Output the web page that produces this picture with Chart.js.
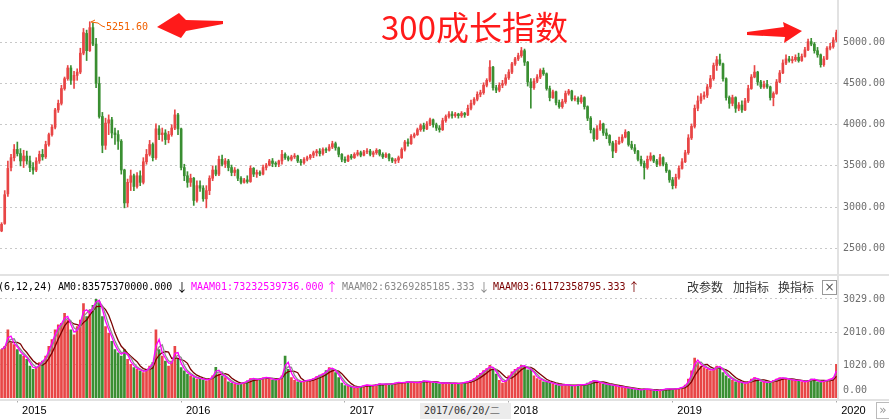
<!DOCTYPE html>
<html>
<head>
<meta charset="utf-8">
<script src="https://cdn.jsdelivr.net/npm/chart.js@4/dist/chart.umd.min.js"></script>
<style>
  body { margin: 0; background: #fff; }
  #page { position: relative; width: 889px; height: 420px; overflow: hidden; background: #fff; }
  .box { position: absolute; }
  .txt { position: absolute; white-space: nowrap; }
  .mono { font: 10px "DejaVu Sans Mono", monospace; line-height: 12px; }
  .arr { font: 12px "Noto Sans CJK SC", sans-serif; line-height: 12px; }
  .cjk { font: 12px "Noto Sans CJK SC", sans-serif; line-height: 14px; color: #333; }
</style>
</head>
<body>
<div id="page">
  <div class="box" style="left:0;top:0;width:889px;height:276px"><canvas id="priceChart"></canvas></div>
  <div class="box" style="left:0;top:276px;width:889px;height:144px"><canvas id="volChart"></canvas></div>

  <!-- frame lines -->
  <div class="box" style="left:0;top:274px;width:889px;height:2px;background:#e2e2e2"></div>
  <div class="box" style="left:0;top:399px;width:889px;height:2px;background:#e2e2e2"></div>
  <div class="box" style="left:837px;top:0;width:2px;height:401px;background:#e2e2e2"></div>

  <!-- title + annotations -->
  <div class="txt" style="left:381px;top:10px;font:33px 'Noto Sans CJK SC';line-height:33px;color:#ff1a1a">300成长指数</div>
  <div class="txt mono" style="left:106px;top:21px;color:#f06000">5251.60</div>
  <svg class="box" style="left:0;top:0" width="889" height="420">
    <polyline points="91,22 98,23 102,26 105,27" fill="none" stroke="#f06000" stroke-width="1"/>
    <polyline points="91,22 95,20" fill="none" stroke="#f06000" stroke-width="1"/>
    <polygon points="157,27 179,13 186,20 223,21 223,24 186,31 181,38" fill="#ff1a1a"/>
    <polygon points="747,32 784,27 783,22 802,31 784,43 785,37 747,35" fill="#ff1a1a"/>
  </svg>

  <!-- indicator legend -->
  <div class="txt mono" style="left:-2px;top:281px;color:#000">(6,12,24)</div>
  <div class="txt mono" style="left:58px;top:281px;color:#000">AM0:83575370000.000</div>
  <div class="txt arr" style="left:176px;top:281px;color:#000">↓</div>
  <div class="txt mono" style="left:191px;top:281px;color:#ff00ff">MAAM01:73232539736.000</div>
  <div class="txt arr" style="left:326px;top:281px;color:#ff00ff">↑</div>
  <div class="txt mono" style="left:342px;top:281px;color:#888">MAAM02:63269285185.333</div>
  <div class="txt arr" style="left:478px;top:281px;color:#888">↓</div>
  <div class="txt mono" style="left:493px;top:281px;color:#7a0000">MAAM03:61172358795.333</div>
  <div class="txt arr" style="left:628px;top:281px;color:#7a0000">↑</div>
  <div class="txt cjk" style="left:687px;top:280px">改参数</div>
  <div class="txt cjk" style="left:733px;top:280px">加指标</div>
  <div class="txt cjk" style="left:778px;top:280px">换指标</div>
  <div class="txt" style="left:822px;top:280px;width:13px;height:13px;border:1px solid #999;font:12px 'DejaVu Sans';line-height:13px;text-align:center;color:#555">×</div>

  <!-- bottom widgets -->
  <div class="txt mono" style="left:420px;top:403px;width:87px;height:16px;line-height:16px;padding-left:4px;background:#ececec;color:#333">2017/06/20/二</div>
  <div class="txt" style="left:876px;top:402px;width:12px;height:15px;border:1px solid #bbb;font:12px 'DejaVu Sans';line-height:14px;text-align:center;color:#999">»</div>
</div>

<script>
// weekly candles, Dec 2014 .. Jan 2020
var opens = [2710,2800,3160,3480,3600,3700,3650,3560,3620,3560,
3480,3450,3560,3640,3610,3760,3880,3970,4180,4260,
4440,4560,4690,4540,4600,4640,4870,5110,4900,5180,
4980,4500,4100,3750,4020,4060,3900,3880,3800,3450,
3050,3300,3380,3250,3380,3300,3550,3640,3760,3600,
3950,3880,3900,3820,3880,3960,4120,3950,3480,3380,
3300,3350,3080,3260,3230,3100,3200,3350,3450,3400,
3580,3520,3560,3480,3420,3450,3350,3300,3330,3310,
3470,3400,3420,3400,3480,3510,3560,3530,3520,3560,
3640,3600,3580,3610,3620,3560,3540,3580,3600,3630,
3660,3680,3650,3700,3690,3730,3770,3720,3640,3580,
3560,3620,3600,3640,3660,3630,3670,3680,3640,3660,
3690,3640,3610,3640,3590,3560,3570,3600,3700,3790,
3770,3860,3880,3940,3990,3950,4010,4060,4000,3960,
3940,4050,4100,4130,4110,4130,4110,4140,4120,4200,
4260,4310,4370,4390,4480,4540,4700,4450,4420,4480,
4500,4570,4640,4740,4800,4840,4900,4760,4520,4450,
4530,4580,4660,4620,4440,4330,4400,4270,4220,4280,
4380,4410,4310,4320,4280,4330,4220,4080,3940,3830,
3950,4010,3900,3870,3780,3680,3770,3800,3850,3910,
3760,3720,3680,3580,3530,3480,3580,3620,3560,3520,
3600,3520,3440,3330,3260,3360,3470,3550,3660,3840,
3980,4200,4290,4340,4360,4460,4560,4720,4790,4740,
4560,4330,4260,4330,4200,4240,4180,4290,4440,4580,
4640,4520,4460,4490,4460,4330,4380,4520,4630,4750,
4800,4780,4790,4820,4780,4830,4910,5010,4980,4900,
4850,4730,4800,4930,4950,5030];

var closes = [2790,3150,3470,3600,3700,3650,3560,3620,3560,3480,
3450,3560,3640,3610,3760,3880,3970,4180,4260,4440,
4560,4690,4540,4600,4640,4870,5120,4900,5180,4980,
4500,4100,3750,4020,4060,3900,3880,3800,3450,3050,
3300,3380,3250,3380,3300,3550,3640,3760,3600,3950,
3880,3900,3820,3880,3960,4120,3950,3480,3380,3300,
3350,3080,3260,3230,3100,3200,3350,3450,3400,3580,
3520,3560,3480,3420,3450,3350,3300,3330,3310,3470,
3400,3420,3400,3480,3510,3560,3530,3520,3560,3640,
3600,3580,3610,3620,3560,3540,3580,3600,3630,3660,
3680,3650,3700,3690,3730,3770,3720,3640,3580,3560,
3620,3600,3640,3660,3630,3670,3680,3640,3660,3690,
3640,3610,3640,3590,3560,3570,3600,3700,3790,3770,
3860,3880,3940,3990,3950,4010,4060,4000,3960,3940,
4050,4100,4130,4110,4130,4110,4140,4120,4200,4260,
4310,4370,4390,4480,4540,4700,4450,4420,4480,4500,
4570,4640,4740,4800,4840,4900,4760,4520,4450,4530,
4580,4660,4620,4440,4330,4400,4270,4220,4280,4380,
4410,4310,4320,4280,4330,4220,4080,3940,3830,3950,
4010,3900,3870,3780,3680,3770,3800,3850,3910,3760,
3720,3680,3580,3530,3480,3580,3620,3560,3520,3600,
3520,3440,3330,3260,3360,3470,3550,3660,3840,3980,
4200,4290,4340,4360,4460,4560,4720,4790,4740,4560,
4330,4260,4330,4200,4240,4180,4290,4440,4580,4640,
4520,4460,4490,4460,4330,4380,4520,4630,4750,4800,
4780,4790,4820,4780,4830,4910,5010,4980,4900,4850,
4730,4800,4930,4950,5030,5120];

var highs = [2810,3200,3560,3640,3760,3790,3710,3690,3680,3620,
3540,3600,3680,3700,3800,3900,4000,4200,4300,4480,
4580,4720,4720,4650,4680,4930,5170,5150,5252,5240,
5050,4580,4150,4080,4120,4090,3960,3930,3820,3460,
3340,3450,3400,3420,3440,3600,3700,3810,3780,4010,
3990,3960,3940,3920,4000,4180,4140,3960,3520,3430,
3400,3360,3320,3320,3260,3260,3380,3500,3500,3620,
3630,3590,3580,3510,3480,3460,3370,3350,3380,3500,
3480,3450,3440,3510,3530,3580,3590,3550,3570,3690,
3660,3620,3630,3650,3630,3580,3600,3620,3640,3680,
3700,3710,3720,3720,3760,3800,3790,3730,3650,3610,
3630,3640,3660,3690,3680,3690,3710,3700,3680,3710,
3700,3660,3660,3650,3600,3590,3620,3720,3810,3830,
3880,3900,3960,4010,4020,4040,4080,4070,4020,3990,
4080,4120,4160,4160,4150,4140,4160,4150,4240,4300,
4330,4400,4420,4510,4560,4780,4710,4480,4510,4540,
4610,4670,4760,4820,4870,4940,4920,4770,4560,4560,
4610,4680,4690,4630,4470,4420,4410,4300,4310,4410,
4430,4420,4350,4340,4360,4340,4230,4100,3960,3990,
4050,4020,3950,3880,3800,3810,3850,3880,3940,3920,
3800,3760,3690,3620,3560,3620,3660,3630,3580,3640,
3610,3540,3450,3360,3400,3500,3590,3690,3880,4010,
4240,4350,4380,4400,4490,4600,4750,4830,4860,4750,
4570,4350,4360,4340,4270,4290,4320,4480,4610,4720,
4650,4540,4530,4540,4470,4400,4550,4660,4790,4850,
4830,4830,4850,4870,4860,4940,5040,5050,5000,4940,
4860,4830,4950,4990,5060,5150];

var lows = [2700,2790,3130,3440,3560,3620,3500,3480,3520,3430,
3400,3430,3530,3570,3590,3740,3860,3950,4150,4240,
4420,4540,4490,4440,4540,4620,4850,4780,4890,4960,
4450,4080,3660,3700,3880,3840,3760,3700,3400,2990,
3000,3200,3200,3230,3260,3280,3520,3620,3560,3580,
3820,3800,3760,3780,3860,3940,3880,3450,3320,3240,
3250,3020,3060,3190,3070,2990,3150,3320,3380,3380,
3500,3480,3440,3380,3380,3320,3280,3290,3290,3300,
3370,3360,3380,3390,3450,3500,3490,3490,3490,3520,
3580,3560,3560,3590,3540,3510,3520,3560,3580,3600,
3620,3620,3630,3660,3680,3710,3690,3610,3550,3540,
3550,3580,3590,3620,3610,3620,3650,3620,3610,3640,
3620,3590,3600,3560,3540,3530,3540,3590,3680,3740,
3760,3840,3870,3920,3920,3940,3990,3970,3930,3910,
3930,4030,4080,4080,4090,4080,4090,4090,4110,4180,
4240,4290,4340,4370,4460,4520,4420,4390,4400,4450,
4480,4550,4620,4720,4780,4820,4720,4470,4200,4430,
4510,4560,4600,4420,4290,4320,4240,4200,4200,4260,
4360,4290,4290,4250,4260,4190,4050,3900,3800,3820,
3930,3870,3830,3750,3600,3660,3760,3780,3840,3740,
3700,3650,3560,3500,3340,3460,3560,3540,3490,3500,
3500,3420,3300,3220,3230,3340,3460,3540,3640,3820,
3960,4170,4260,4310,4330,4440,4540,4660,4720,4530,
4300,4200,4230,4150,4170,4150,4170,4270,4430,4570,
4480,4440,4440,4440,4300,4230,4370,4510,4620,4730,
4760,4750,4770,4760,4770,4820,4900,4960,4870,4820,
4700,4710,4790,4910,4930,5010];

// turnover (right axis units of the lower pane)
var volumes = [1500,1600,2100,1700,1650,1500,1350,1300,1200,1000,
900,950,1100,1150,1300,1600,1800,2100,2250,2300,
2600,2400,2100,1950,2200,2400,2900,2500,2700,2850,
3029,2950,2500,2200,2000,1750,1500,1400,1300,1500,
1200,1050,950,900,850,800,900,1000,1100,2100,
1500,1300,1150,1000,1150,1600,1200,950,850,750,
700,650,600,620,580,550,620,700,960,760,
700,650,520,480,450,430,470,500,550,620,
600,560,600,640,650,600,580,560,620,700,
1300,900,650,560,520,500,540,560,580,620,
680,720,760,860,950,900,800,650,480,400,
380,350,330,350,380,400,420,380,400,430,
460,420,450,430,460,480,500,470,500,520,
480,500,470,520,550,500,520,480,500,460,
470,480,450,470,460,450,480,500,520,560,
620,700,780,860,920,1020,880,750,560,480,
560,700,820,900,950,1020,980,880,900,700,
620,580,520,500,480,450,420,400,420,430,
400,380,400,420,430,410,480,520,560,500,
480,450,430,420,400,380,360,350,330,320,
300,280,270,260,300,280,260,250,240,260,
280,300,290,280,300,320,350,420,600,850,
1240,1100,1000,950,900,850,900,1000,950,800,
700,620,560,520,500,480,450,520,600,650,
560,520,500,480,520,560,600,640,620,600,
580,560,540,560,520,500,560,600,580,520,
500,540,560,600,640,1050];

var yearStart = [5, 57, 109, 161, 213, 265];
var yearLabels = ["2015", "2016", "2017", "2018", "2019", "2020"];
var priceTicks = [2500, 3000, 3500, 4000, 4500, 5000];
var volTicks = [0, 1020, 2010, 3029];
var maWindows = [2, 3, 5];

var UP = "#e84646";
var DOWN = "#3a8f32";
var AXIS_FONT = { family: "DejaVu Sans Mono", size: 10 };

Chart.defaults.font.family = "DejaVu Sans Mono";

var weeks = closes.map(function (_, i) { return i; });
var candleColors = closes.map(function (c, i) { return c >= opens[i] ? UP : DOWN; });

function movingAvg(arr, n) {
  return arr.map(function (_, i) {
    var s = 0, k = 0;
    for (var j = Math.max(0, i - n + 1); j <= i; j++) { s += arr[j]; k++; }
    return s / k;
  });
}

function fixAxis(w) {
  return function (s) { s.width = w; s.paddingTop = 0; s.paddingBottom = 0; };
}

// the zero label of the lower pane sits a bit above its line
var liftZeroLabel = {
  id: "liftZeroLabel",
  beforeDraw: function (chart) {
    var s = chart.scales.y;
    var items = s.getLabelItems();
    items.forEach(function (it, i) {
      if (s.ticks[i] && s.ticks[i].value === 0 && !it._lifted) {
        it.options.translation = [it.options.translation[0], it.options.translation[1] - 8];
        it._lifted = true;
      }
    });
  }
};

new Chart("priceChart", {
  type: "bar",
  data: {
    labels: weeks,
    datasets: [{
      data: lows.map(function (l, i) { return [l, highs[i]]; }),
      backgroundColor: candleColors,
      barThickness: 1,
      grouped: false
    }, {
      data: opens.map(function (o, i) { return [o, closes[i]]; }),
      backgroundColor: candleColors,
      barThickness: 2,
      minBarLength: 1,
      grouped: false
    }]
  },
  options: {
    animation: false,
    responsive: true,
    maintainAspectRatio: false,
    layout: { padding: 0 },
    plugins: { legend: { display: false }, tooltip: { enabled: false } },
    scales: {
      x: { display: false },
      y: {
        position: "right",
        min: 2162,
        max: 5516,
        afterBuildTicks: function (s) { s.ticks = priceTicks.map(function (v) { return { value: v }; }); },
        afterFit: fixAxis(51),
        ticks: {
          padding: 5,
          color: "#6e6e6e",
          font: AXIS_FONT,
          callback: function (v) { return v.toFixed(2); }
        },
        grid: { color: "#c8c8c8", drawTicks: false },
        border: { display: false, dash: [2, 3] }
      }
    }
  }
});

var maColors = ["#ff00ff", "#8c8c8c", "#7a0000"];
var volSets = maWindows.map(function (n, k) {
  return {
    type: "line",
    data: movingAvg(volumes, n),
    borderColor: maColors[k],
    borderWidth: 1.3,
    pointRadius: 0,
    order: 0
  };
});
volSets.push({
  type: "bar",
  data: volumes,
  backgroundColor: candleColors,
  categoryPercentage: 1,
  barPercentage: 0.85,
  order: 1
});

new Chart("volChart", {
  type: "bar",
  data: { labels: weeks, datasets: volSets },
  plugins: [liftZeroLabel],
  options: {
    animation: false,
    responsive: true,
    maintainAspectRatio: false,
    layout: { padding: 0 },
    plugins: { legend: { display: false }, tooltip: { enabled: false } },
    scales: {
      x: {
        offset: true,
        afterBuildTicks: function (s) { s.ticks = yearStart.map(function (v) { return { value: v }; }); },
        afterFit: function (s) { s.height = 21.5; s.paddingLeft = 0; s.paddingRight = 0; },
        ticks: {
          autoSkip: false,
          maxRotation: 0,
          labelOffset: 17,
          padding: 2,
          color: "#000",
          font: { family: "Liberation Sans", size: 11 },
          callback: function (v) { return yearLabels[yearStart.indexOf(v)]; }
        },
        grid: { drawOnChartArea: false, drawTicks: true, tickLength: 4, color: "#aaa", offset: false },
        border: { display: false }
      },
      y: {
        position: "right",
        min: 0,
        max: 3729,
        afterBuildTicks: function (s) { s.ticks = volTicks.map(function (v) { return { value: v }; }); },
        afterFit: fixAxis(51),
        ticks: {
          padding: 5,
          color: "#6e6e6e",
          font: AXIS_FONT,
          callback: function (v) { return v.toFixed(2); }
        },
        grid: { color: function (c) { return c.tick && c.tick.value === 0 ? "rgba(0,0,0,0)" : "#c8c8c8"; }, drawTicks: false },
        border: { display: false, dash: [2, 3] }
      }
    }
  }
});
</script>
</body>
</html>
